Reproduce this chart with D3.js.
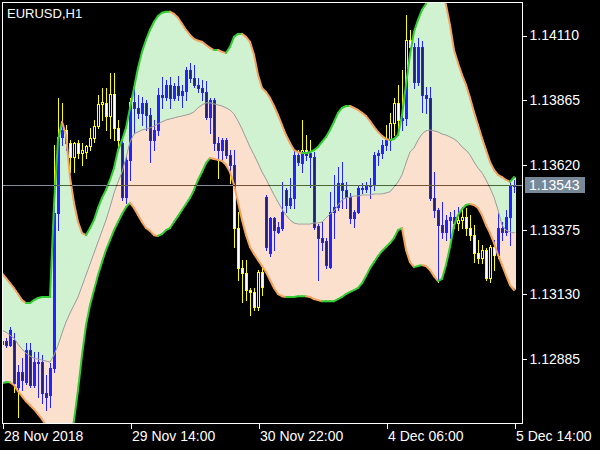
<!DOCTYPE html>
<html><head><meta charset="utf-8">
<script src="https://cdn.jsdelivr.net/npm/d3@7"></script>
<style>body{margin:0;background:#000}svg{display:block}</style>
</head><body>
<script>
const symbol = "EURUSD,H1";
const timeTickIndex = [0, 32, 64, 96, 128];
const timeTickLabels = ["28 Nov 2018", "29 Nov 14:00", "30 Nov 22:00", "4 Dec 06:00", "5 Dec 14:00"];
const priceTicks = [1.14110, 1.13865, 1.13620, 1.13375, 1.13130, 1.12885];
const lastPrice = 1.13543;

const open = [1.12941,1.12953,1.12937,1.12956,1.12778,1.12835,1.12797,1.12918,1.12786,1.12873,1.12873,1.12756,1.12748,1.12850,1.13438,1.13726,1.13752,1.13703,1.13650,1.13703,
1.13665,1.13669,1.13692,1.13722,1.13767,1.13851,1.13855,1.13805,1.13889,1.13760,
1.13703,1.13498,1.13639,1.13858,1.13836,1.13817,1.13855,1.13809,1.13714,1.13752,
1.13885,1.13877,1.13923,1.13874,1.13919,1.13885,1.13900,1.13980,1.13949,1.13923,
1.13911,1.13896,1.13802,1.13866,1.13703,1.13676,1.13714,1.13658,1.13620,1.13381,
1.13229,1.13210,1.13146,1.13138,1.13081,1.13214,1.13498,1.13286,1.13419,1.13366,
1.13381,1.13525,1.13468,1.13495,1.13658,1.13627,1.13676,1.13665,1.13650,1.13389,
1.13343,1.13332,1.13233,1.13442,1.13460,1.13551,1.13525,1.13498,1.13419,1.13442,
1.13533,1.13529,1.13540,1.13544,1.13658,1.13665,1.13695,1.13714,1.13779,1.13855,
1.13790,1.13798,1.14093,1.14067,1.13934,1.14067,1.13885,1.13874,1.13495,1.13449,
1.13392,1.13366,1.13411,1.13423,1.13400,1.13411,1.13423,1.13381,1.13354,1.13286,
1.13267,1.13298,1.13191,1.13309,1.13279,1.13381,1.13366,1.13423,1.13544];
const high = [1.12960,1.12964,1.13006,1.12983,1.12862,1.12888,1.12945,1.12945,1.12911,1.12911,1.12900,1.12824,1.12869,1.13695,1.13874,1.13855,1.13771,1.13714,1.13707,1.13714,
1.13703,1.13695,1.13760,1.13790,1.13885,1.13911,1.13911,1.13968,1.13968,1.13790,
1.13714,1.13658,1.13874,1.13934,1.13885,1.13877,1.13866,1.13836,1.13790,1.13911,
1.13953,1.13942,1.13953,1.13930,1.13957,1.13923,1.13991,1.14006,1.13999,1.13949,
1.13942,1.13938,1.13874,1.13874,1.13726,1.13722,1.13722,1.13676,1.13676,1.13442,
1.13260,1.13260,1.13153,1.13153,1.13222,1.13229,1.13506,1.13423,1.13423,1.13404,
1.13555,1.13533,1.13570,1.13676,1.13676,1.13790,1.13733,1.13714,1.13669,1.13396,
1.13404,1.13343,1.13517,1.13582,1.13612,1.13631,1.13555,1.13514,1.13449,1.13544,
1.13551,1.13555,1.13570,1.13669,1.13676,1.13714,1.13771,1.13817,1.13874,1.13923,
1.13980,1.14188,1.14131,1.14082,1.14101,1.14090,1.13915,1.13915,1.13593,1.13457,
1.13479,1.13430,1.13442,1.13449,1.13460,1.13460,1.13457,1.13430,1.13392,1.13335,
1.13316,1.13305,1.13316,1.13335,1.13438,1.13404,1.13449,1.13563,1.13563];
const low = [1.12930,1.12930,1.12934,1.12759,1.12665,1.12767,1.12790,1.12778,1.12778,1.12740,1.12718,1.12691,1.12702,1.12835,1.13373,1.13695,1.13676,1.13593,1.13593,1.13646,
1.13620,1.13646,1.13676,1.13707,1.13760,1.13790,1.13752,1.13722,1.13714,1.13676,
1.13487,1.13476,1.13563,1.13741,1.13798,1.13771,1.13752,1.13631,1.13676,1.13733,
1.13836,1.13866,1.13836,1.13866,1.13866,1.13839,1.13866,1.13934,1.13915,1.13896,
1.13866,1.13794,1.13741,1.13676,1.13570,1.13639,1.13646,1.13551,1.13309,1.13184,
1.13100,1.13108,1.13051,1.13070,1.13070,1.13127,1.13298,1.13275,1.13298,1.13362,
1.13373,1.13442,1.13457,1.13457,1.13620,1.13593,1.13639,1.13536,1.13377,1.13184,
1.13298,1.13229,1.13229,1.13343,1.13449,1.13457,1.13457,1.13400,1.13385,1.13438,
1.13514,1.13518,1.13495,1.13525,1.13620,1.13646,1.13676,1.13676,1.13733,1.13741,
1.13752,1.13771,1.14037,1.13911,1.13923,1.13821,1.13817,1.13487,1.13423,1.13176,
1.13343,1.13335,1.13343,1.13381,1.13373,1.13381,1.13354,1.13335,1.13252,1.13248,
1.13248,1.13184,1.13176,1.13222,1.13267,1.13335,1.13354,1.13316,1.13517];
const close = [1.12953,1.12937,1.12994,1.12793,1.12835,1.12805,1.12918,1.12786,1.12873,1.12869,1.12756,1.12740,1.12850,1.13438,1.13726,1.13752,1.13703,1.13650,1.13703,1.13665,
1.13676,1.13692,1.13722,1.13767,1.13851,1.13858,1.13805,1.13889,1.13760,1.13714,
1.13498,1.13639,1.13858,1.13836,1.13817,1.13855,1.13809,1.13714,1.13752,1.13885,
1.13877,1.13923,1.13874,1.13919,1.13885,1.13900,1.13980,1.13949,1.13923,1.13911,
1.13896,1.13802,1.13866,1.13703,1.13676,1.13714,1.13658,1.13620,1.13381,1.13229,
1.13210,1.13146,1.13138,1.13081,1.13214,1.13157,1.13309,1.13419,1.13373,1.13385,
1.13442,1.13468,1.13495,1.13658,1.13631,1.13676,1.13658,1.13650,1.13385,1.13343,
1.13328,1.13241,1.13442,1.13460,1.13551,1.13525,1.13498,1.13419,1.13442,1.13533,
1.13529,1.13540,1.13544,1.13658,1.13665,1.13695,1.13714,1.13779,1.13855,1.13790,
1.13798,1.14093,1.14067,1.13934,1.14067,1.13885,1.13874,1.13495,1.13449,1.13392,
1.13366,1.13411,1.13423,1.13400,1.13411,1.13423,1.13381,1.13354,1.13286,1.13267,
1.13298,1.13191,1.13309,1.13279,1.13381,1.13366,1.13423,1.13544,1.13543];

const upperBand = [1.13210,1.13191,1.13172,1.13153,1.13131,1.13108,1.13097,1.13097,1.13108,1.13116,1.13120,1.13120,1.13120,1.13468,1.13714,1.13783,1.13733,1.13574,1.13476,1.13404,
1.13362,1.13354,1.13381,1.13411,1.13457,1.13495,1.13525,1.13563,1.13608,1.13676,
1.13714,1.13760,1.13836,1.13911,1.13987,1.14048,1.14093,1.14131,1.14162,1.14184,
1.14196,1.14200,1.14200,1.14192,1.14177,1.14154,1.14131,1.14112,1.14097,1.14090,
1.14086,1.14074,1.14063,1.14055,1.14055,1.14048,1.14044,1.14067,1.14105,1.14116,
1.14116,1.14105,1.14086,1.14037,1.13961,1.13911,1.13896,1.13874,1.13843,1.13809,
1.13771,1.13733,1.13703,1.13676,1.13668,1.13665,1.13665,1.13668,1.13676,1.13688,
1.13707,1.13726,1.13752,1.13783,1.13817,1.13836,1.13843,1.13843,1.13836,1.13828,
1.13817,1.13805,1.13786,1.13764,1.13745,1.13730,1.13718,1.13714,1.13718,1.13733,
1.13809,1.13923,1.14037,1.14124,1.14169,1.14207,1.14230,1.14264,1.14283,1.14283,
1.14264,1.14226,1.14150,1.14055,1.14006,1.13961,1.13923,1.13874,1.13820,1.13771,
1.13722,1.13676,1.13631,1.13601,1.13582,1.13574,1.13563,1.13556,1.13574];
const middleBand = [1.12994,1.12987,1.12975,1.12964,1.12941,1.12922,1.12907,1.12896,1.12888,1.12884,1.12881,1.12877,1.12873,1.12900,1.12937,1.12983,1.13025,1.13059,1.13089,1.13120,
1.13161,1.13203,1.13244,1.13286,1.13328,1.13370,1.13411,1.13460,1.13513,1.13555,
1.13593,1.13646,1.13707,1.13737,1.13745,1.13752,1.13756,1.13760,1.13767,1.13775,
1.13783,1.13790,1.13794,1.13798,1.13802,1.13805,1.13809,1.13813,1.13821,1.13836,
1.13847,1.13855,1.13855,1.13851,1.13847,1.13843,1.13836,1.13828,1.13813,1.13786,
1.13756,1.13722,1.13688,1.13658,1.13627,1.13593,1.13567,1.13536,1.13507,1.13479,
1.13453,1.13430,1.13411,1.13400,1.13396,1.13396,1.13396,1.13396,1.13400,1.13400,
1.13404,1.13419,1.13434,1.13445,1.13468,1.13487,1.13495,1.13498,1.13502,1.13502,
1.13506,1.13506,1.13506,1.13510,1.13510,1.13510,1.13514,1.13518,1.13536,1.13555,
1.13582,1.13627,1.13669,1.13684,1.13714,1.13737,1.13749,1.13752,1.13749,1.13745,
1.13737,1.13733,1.13726,1.13718,1.13707,1.13688,1.13676,1.13658,1.13631,1.13608,
1.13590,1.13563,1.13533,1.13498,1.13449,1.13392,1.13373,1.13366,1.13362];
const lowerBand = [1.12793,1.12797,1.12797,1.12786,1.12763,1.12744,1.12725,1.12710,1.12695,1.12676,1.12657,1.12634,1.12608,1.12577,1.12540,1.12521,1.12532,1.12577,1.12653,1.12767,
1.12900,1.13013,1.13089,1.13146,1.13203,1.13252,1.13298,1.13335,1.13373,1.13404,
1.13434,1.13460,1.13476,1.13457,1.13430,1.13404,1.13381,1.13370,1.13354,1.13351,
1.13358,1.13373,1.13381,1.13404,1.13426,1.13449,1.13472,1.13495,1.13525,1.13563,
1.13593,1.13627,1.13646,1.13642,1.13639,1.13635,1.13620,1.13593,1.13544,1.13479,
1.13411,1.13354,1.13309,1.13283,1.13260,1.13237,1.13214,1.13184,1.13154,1.13131,
1.13123,1.13120,1.13120,1.13120,1.13123,1.13123,1.13123,1.13120,1.13112,1.13108,
1.13104,1.13104,1.13104,1.13104,1.13112,1.13120,1.13131,1.13139,1.13146,1.13154,
1.13172,1.13199,1.13229,1.13252,1.13275,1.13294,1.13309,1.13324,1.13343,1.13373,
1.13381,1.13298,1.13252,1.13233,1.13237,1.13241,1.13237,1.13222,1.13199,1.13180,
1.13188,1.13241,1.13309,1.13388,1.13430,1.13453,1.13468,1.13472,1.13468,1.13457,
1.13430,1.13392,1.13362,1.13324,1.13279,1.13241,1.13203,1.13165,1.13146];

const W = 600, H = 450;
const FONT = "'Liberation Sans', Arial, sans-serif";
const n = close.length;
const idx = d3.range(n);
const x = d3.scaleLinear().domain([0, n - 1]).range([2, 514]);
const y = d3.scaleLinear().domain([1.12885, 1.14110]).range([359, 35.5]);

const svg = d3.select("body").append("svg").attr("width", W).attr("height", H);
svg.append("rect").attr("width", W).attr("height", H).attr("fill", "#000");
const defs = svg.append("defs");
defs.append("clipPath").attr("id", "plot").append("rect")
  .attr("x", 2).attr("y", 2).attr("width", 520).attr("height", 421);
const ax = i => i === 0 ? x(i) - 2 : (i === n - 1 ? x(i) + 2 : x(i));
const bandArea = d3.area().x(ax).y0(i => y(lowerBand[i])).y1(i => y(upperBand[i]));
defs.append("clipPath").attr("id", "band").append("path").attr("d", bandArea(idx));

const g = svg.append("g").attr("clip-path", "url(#plot)");

function drawCandles(sel, color, bullFill, bearFill) {
  idx.forEach(i => {
    const cx = Math.round(x(i));
    sel.append("line")
      .attr("x1", cx + 0.5).attr("x2", cx + 0.5)
      .attr("y1", Math.round(y(high[i]))).attr("y2", Math.round(y(low[i])) + 1)
      .attr("stroke", color).attr("shape-rendering", "crispEdges");
    const t = Math.round(y(Math.max(open[i], close[i])));
    const b = Math.round(y(Math.min(open[i], close[i])));
    const bull = close[i] >= open[i];
    sel.append("rect")
      .attr("x", cx - 0.5).attr("y", t + 0.5)
      .attr("width", 2).attr("height", Math.max(b - t, 1))
      .attr("fill", bull ? bullFill : bearFill)
      .attr("stroke", color).attr("shape-rendering", "crispEdges");
  });
}

// chart candles (visible outside the bands)
drawCandles(g.append("g"), "#ffff00", "#000000", "#ffffff");

// band fills
g.append("path").attr("d", d3.area().x(ax).y0(i => y(middleBand[i])).y1(i => y(upperBand[i]))(idx))
  .attr("fill", "#d0f2d0");
g.append("path").attr("d", d3.area().x(ax).y0(i => y(lowerBand[i])).y1(i => y(middleBand[i]))(idx))
  .attr("fill", "#fce0ce");

// candles inside the bands
drawCandles(g.append("g").attr("clip-path", "url(#band)"), "#2323ff", "none", "#20207c");

// middle line
g.append("path").attr("d", d3.line().x(x).y(i => y(middleBand[i]))(idx))
  .attr("fill", "none").attr("stroke", "#a4a4a4").attr("stroke-width", 1);

// band lines coloured by direction
function bandLine(arr) {
  d3.range(n - 1).forEach(i => {
    g.append("line")
      .attr("x1", x(i)).attr("y1", y(arr[i]))
      .attr("x2", x(i + 1)).attr("y2", y(arr[i + 1]))
      .attr("stroke", arr[i + 1] >= arr[i] ? "#32cd32" : "#f4a460")
      .attr("stroke-width", 2).attr("stroke-linecap", "round");
  });
}
bandLine(upperBand);
bandLine(lowerBand);

// bid line
const py = Math.round(y(lastPrice)) + 0.5;
g.append("line").attr("x1", 2).attr("x2", 522).attr("y1", py).attr("y2", py)
  .attr("stroke", "rgb(132,142,154)").style("mix-blend-mode", "difference");

// frame
svg.append("rect").attr("x", 2.5).attr("y", 2.5).attr("width", 520).attr("height", 421)
  .attr("fill", "none").attr("stroke", "#fff");

// price axis
const yAxis = svg.append("g").attr("transform", "translate(522.5,0)")
  .call(d3.axisRight(y).tickValues(priceTicks).tickSize(4).tickPadding(3).tickFormat(d3.format(".5f")));
yAxis.select(".domain").remove();
yAxis.selectAll("line").attr("stroke", "#fff").attr("shape-rendering", "crispEdges");
yAxis.selectAll("text").attr("fill", "#fff").style("font-family", FONT).style("font-size", "14px");

// time axis
const xAxis = svg.append("g").attr("transform", "translate(0.5,423.5)")
  .call(d3.axisBottom(x).tickValues(timeTickIndex).tickSize(5).tickPadding(3)
    .tickFormat((d, k) => timeTickLabels[k]));
xAxis.select(".domain").remove();
xAxis.selectAll("line").attr("stroke", "#fff").attr("shape-rendering", "crispEdges");
xAxis.selectAll("text").attr("fill", "#fff").attr("text-anchor", "start").attr("x", 1)
  .style("font-family", FONT).style("font-size", "14px");

// last price label
svg.append("rect").attr("x", 525).attr("y", Math.round(y(lastPrice)) - 8)
  .attr("width", 60).attr("height", 16).attr("fill", "#778899");
svg.append("text").attr("x", 529).attr("y", Math.round(y(lastPrice)) + 5)
  .attr("fill", "#fff").style("font-family", FONT).style("font-size", "14px")
  .text(d3.format(".5f")(lastPrice));

// symbol title
svg.append("text").attr("x", 7).attr("y", 18).attr("fill", "#fff")
  .style("font-family", FONT).style("font-size", "13px").text(symbol);
</script>
</body></html>
